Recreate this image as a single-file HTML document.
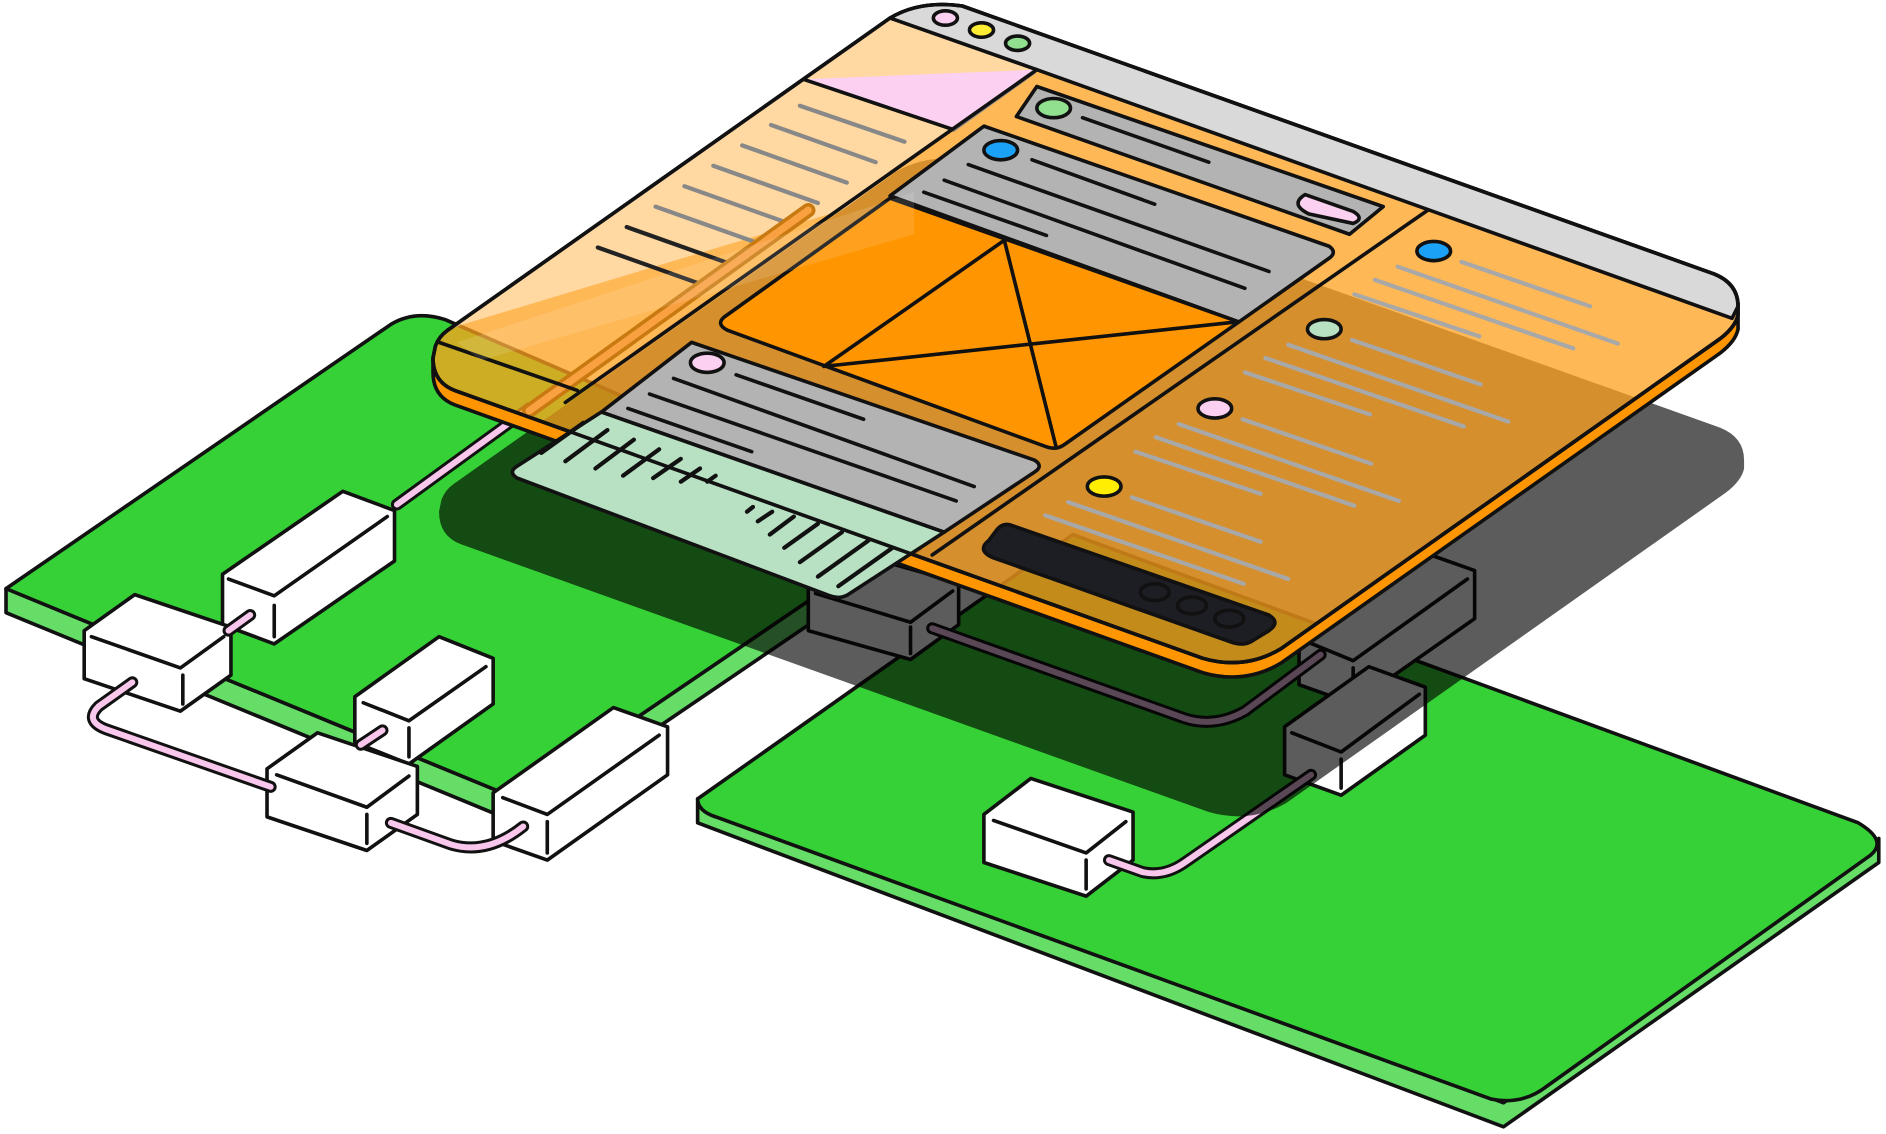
<!DOCTYPE html>
<html><head><meta charset="utf-8"><style>html,body{margin:0;padding:0;background:#fff}svg{display:block}</style></head>
<body>
<svg width="1886" height="1134" viewBox="0 0 1568 944" preserveAspectRatio="none" xmlns="http://www.w3.org/2000/svg">
<defs>
<path id="bro" d="M740,15 Q765,0 800,5 L1425,228 Q1445,236 1445,255 L1445,262 Q1443,272 1430,282 L1065,540 Q1035,558 1000,548 L378,325 Q360,318 360,298 L362,288 Q365,280 372,275 Z"/>
</defs>
<g stroke="#111" stroke-width="3" stroke-linejoin="round" stroke-linecap="round">
<!-- left board -->
<path d="M5,490 L5,510 L430,685 L765,457 L765,437 L430,665 Z" fill="#66dd66"/>
<path d="M5,490 L325,270 Q345,258 370,266 L765,437 L430,665 Z" fill="#36d136"/>
<!-- right board -->
<path d="M580,665 L580,685 L1250,938 L1562,718 L1562,698 L1250,918 Z" fill="#66dd66"/>
<path d="M580,665 L892,445 L1545,685 Q1570,700 1555,712 L1285,905 Q1265,920 1240,915 L595,680 Q580,675 580,665 Z" fill="#36d136"/>
<!-- cable behind -->
<g fill="none">
<path d="M440,340 L330,420" stroke="#111" stroke-width="10"/>
<path d="M440,340 L330,420" stroke="#f9c6ec" stroke-width="5"/>
</g>
<!-- boxes -->
<g fill="#fff">
<path d="M185,478 L285,409 L328,425 L328,467 L228,536 L185,520 Z"/><path fill="none" d="M190,482 L228,496 L322,430 M228,504 L228,530"/>
<path d="M70,525 L112,495 L192,522 L192,562 L150,592 L70,565 Z"/><path fill="none" d="M76,530 L150,556 L186,530 M152,562 L152,586"/>
<path d="M295,580 L365,530 L410,548 L410,586 L340,636 L295,618 Z"/><path fill="none" d="M302,585 L340,600 L404,555 M340,606 L340,630"/>
<path d="M222,640 L264,610 L347,638 L347,678 L305,708 L222,680 Z"/><path fill="none" d="M230,645 L305,672 L340,646 M305,678 L305,702"/>
<path d="M410,660 L510,589 L555,605 L555,645 L455,716 L410,700 Z"/><path fill="none" d="M418,664 L455,678 L548,612 M455,684 L455,710"/>
<path d="M818,678 L857,648 L942,676 L942,716 L903,746 L818,718 Z"/><path fill="none" d="M826,683 L903,710 L936,684 M903,716 L903,740"/>
<path d="M672,490 L712,461 L797,485 L797,520 L757,549 L672,525 Z"/><path fill="none" d="M678,494 L757,518 L792,492 M757,522 L757,544"/>
<path d="M1080,530 L1181,459 L1226,475 L1226,515 L1125,586 L1080,570 Z"/><path fill="none" d="M1086,534 L1125,550 L1220,482 M1125,556 L1125,580"/>
<path d="M1068,605 L1138,555 L1185,572 L1185,612 L1115,662 L1068,645 Z"/><path fill="none" d="M1074,610 L1115,626 L1180,578 M1115,632 L1115,656"/>
</g>
<!-- cables in front -->
<g fill="none">
<path d="M208,512 L190,525 M110,568 L82,588 Q70,600 88,607 L225,655 M318,608 L300,620 M325,685 L375,703 Q405,712 435,688 M775,523 L985,598 Q1010,606 1035,592 L1098,545 M922,716 L950,726 Q968,730 985,718 L1090,645" stroke="#111" stroke-width="10"/>
<path d="M208,512 L190,525 M110,568 L82,588 Q70,600 88,607 L225,655 M318,608 L300,620 M325,685 L375,703 Q405,712 435,688 M775,523 L985,598 Q1010,606 1035,592 L1098,545 M922,716 L950,726 Q968,730 985,718 L1090,645" stroke="#f9c6ec" stroke-width="5"/>
</g>
</g>
<!-- shadow -->
<use href="#bro" transform="translate(5,128)" fill="#000" fill-opacity="0.64"/>
<!-- browser -->
<g stroke="#111" stroke-width="3" stroke-linejoin="round" stroke-linecap="round">
<path d="M360,298 L360,310 Q360,330 378,337 L1000,560 Q1035,570 1065,552 L1430,294 Q1443,284 1445,274 L1445,262 Q1443,272 1430,282 L1065,540 Q1035,558 1000,548 L378,325 Q360,318 360,298 Z" fill="#ff9500"/>
<use href="#bro" fill="#ffa01e" fill-opacity="0.75"/>
<!-- sidebar light -->
<path d="M740,15 L862,58 L700,175 L385,270 L372,275 Z" fill="#fff" fill-opacity="0.45" stroke="none"/>
<path d="M668,66 L862,58 L793,108 Z" fill="#fbd0f0" stroke="none"/>
<path d="M668,66 L793,108" stroke="#111" fill="none"/>
<path d="M860,60 L793,108" stroke="#888" fill="none"/>
<!-- gray bar -->
<path d="M740,15 Q765,0 800,5 L1425,228 Q1445,236 1445,255 L1440,265 L862,58 Z" fill="#d9d9d9"/>
<ellipse cx="786" cy="15" rx="10" ry="6" fill="#fbd0f0"/>
<ellipse cx="816" cy="25" rx="10" ry="6" fill="#ffee33"/>
<ellipse cx="846" cy="36" rx="10" ry="6" fill="#90e090"/>
<!-- sidebar lines -->
<g stroke="#888" stroke-width="3.5">
<path d="M665,88 L752,118 M641,104 L728,135 M617,121 L704,152 M593,138 L680,169 M569,155 L656,186 M545,172 L632,203"/>
</g>
<g stroke="#222" stroke-width="3.5">
<path d="M521,189 L608,220 M497,206 L584,237"/>
</g>
<path d="M672,175 L440,342" stroke="#c87a10" stroke-width="12" fill="none"/>
<path d="M672,175 L440,342" stroke="#f9a040" stroke-width="6" fill="none"/>
<!-- dividers -->
<path d="M862,58 L470,335 M1187,175 L775,462" fill="none"/>
<path d="M365,285 L480,325" fill="none"/>
<!-- header card -->
<path d="M862,72 L1150,172 L1122,195 L845,97 Z" fill="#b3b3b3"/>
<ellipse cx="876" cy="90" rx="14" ry="8" fill="#90e090"/>
<path d="M900,98 L1005,135" fill="none"/>
<path d="M1085,162 L1125,176 Q1135,182 1125,186 L1088,178 Q1072,170 1085,162 Z" fill="#fbd0f0"/>
<!-- card1 -->
<path d="M818,105 L1105,205 Q1112,210 1105,215 L1030,268 L740,163 Z" fill="#b3b3b3"/>
<ellipse cx="832" cy="125" rx="14" ry="8" fill="#1ba1f5"/>
<path d="M858,133 L960,170 M805,137 L1055,226 M785,150 L1035,240 M768,160 L870,196" fill="none"/>
<path d="M740,165 L1030,268 L885,370 Q878,375 870,372 L605,275 Q595,270 602,264 Z" fill="#ff9500"/>
<path d="M685,305 L835,200 L878,372 M685,305 L1028,268" fill="none"/>
<!-- card2 -->
<path d="M575,285 L860,383 Q868,388 860,393 L785,443 L500,343 Z" fill="#b3b3b3"/>
<path d="M500,343 L785,443 L705,495 Q698,499 690,496 L430,398 Q422,393 430,388 Z" fill="#b8e0c2"/>
<ellipse cx="588" cy="302" rx="14" ry="8" fill="#fbd0f0"/>
<path d="M612,312 L718,349 M560,315 L810,405 M540,328 L795,417 M522,340 L625,376" fill="none"/>
<g stroke-width="3.5">
<path d="M485,352 L450,377 M505,358 L470,384 M527,366 L495,390 M548,374 L518,396 M566,382 L543,398 M582,390 L566,401 M595,396 L588,401 M626,422 L621,426 M642,426 L630,434 M660,430 L640,445 M680,436 L652,456 M700,443 L665,468 M722,450 L680,480 M742,456 L697,488"/>
</g>
<!-- right pane -->
<ellipse cx="1192" cy="209" rx="14" ry="8" fill="#1ba1f5"/>
<ellipse cx="1101" cy="274" rx="14" ry="8" fill="#b8e0c2"/>
<ellipse cx="1010" cy="340" rx="14" ry="8" fill="#fbd0f0"/>
<ellipse cx="918" cy="405" rx="14" ry="8" fill="#ffee00"/>
<g stroke="#a8a8a8" stroke-width="3.5" fill="none">
<path d="M1215,218 L1322,255 M1162,222 L1345,286 M1143,233 L1308,290 M1126,245 L1230,280"/>
<path d="M1124,283 L1231,320 M1071,287 L1254,351 M1052,298 L1217,355 M1035,310 L1139,345"/>
<path d="M1033,349 L1140,386 M980,353 L1163,417 M961,364 L1126,421 M944,376 L1048,411"/>
<path d="M941,414 L1048,451 M888,418 L1071,482 M869,429 L1034,486"/>
</g>
<path d="M840,437 L1055,512 Q1065,518 1055,525 L1042,533 Q1035,538 1025,535 L825,464 Q812,458 822,450 L828,442 Q833,435 840,437 Z" fill="#1d1d24"/>
<ellipse cx="960" cy="493" rx="12" ry="7" fill="#1d1d24"/>
<ellipse cx="991" cy="504" rx="12" ry="7" fill="#1d1d24"/>
<ellipse cx="1022" cy="515" rx="12" ry="7" fill="#1d1d24"/>
<!-- gloss -->
<path d="M380,285 L760,160 L760,195 L400,300 Z" fill="#fff" fill-opacity="0.12" stroke="none"/>
<use href="#bro" fill="none"/>
</g>
</svg>
</body></html>
